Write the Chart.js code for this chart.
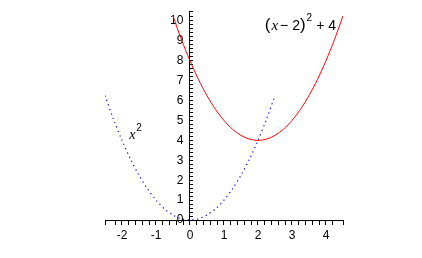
<!DOCTYPE html>
<html>
<head>
<meta charset="utf-8">
<script src="https://cdn.jsdelivr.net/npm/chart.js@4/dist/chart.umd.min.js"></script>
<style>
  html, body { margin: 0; padding: 0; background: #fff; }
  canvas { display: block; }
</style>
</head>
<body>
<canvas id="plot" width="422" height="258"></canvas>
<script>
// x^2
const xSquareX = [-2.5, -2.25, -2, -1.75, -1.5, -1.25, -1, -0.75, -0.5, -0.25, 0,
                  0.25, 0.5, 0.75, 1, 1.25, 1.5, 1.75, 2, 2.25, 2.5];
const xSquareY = [6.25, 5.06, 4, 3.06, 2.25, 1.56, 1, 0.56, 0.25, 0.06, 0,
                  0.06, 0.25, 0.56, 1, 1.56, 2.25, 3.06, 4, 5.06, 6.25];

// (x-2)^2 + 4
const shiftedX = [-0.5, -0.25, 0, 0.25, 0.5, 0.75, 1, 1.25, 1.5, 1.75, 2,
                  2.25, 2.5, 2.75, 3, 3.25, 3.5, 3.75, 4, 4.25, 4.5];
const shiftedY = [10.25, 9.06, 8, 7.06, 6.25, 5.56, 5, 4.56, 4.25, 4.06, 4,
                  4.06, 4.25, 4.56, 5, 5.56, 6.25, 7.06, 8, 9.06, 10.25];

// max nudged off 4.5 so chart.js steps from 0 and hits the whole numbers
const xRange = [-2.5, 4.501];
const yRange = [0, 10.5];
const tickStep = 0.2;

function toPoints(xs, ys) {
  return xs.map((x, i) => ({ x: x, y: ys[i] }));
}

function intLabel(value) {
  const r = Math.round(value);
  return Math.abs(value - r) < 1e-6 ? String(r) : '';
}

// y labels sit on the axis when it is placed at x=0, so pad them on the right
function yLabel(value) {
  const s = intLabel(value);
  return s ? s + '  ' : '';
}

// curve captions, placed in data coordinates
const captions = {
  id: 'captions',
  afterDraw(chart) {
    const ctx = chart.ctx;
    const sx = chart.scales.x, sy = chart.scales.y;
    ctx.save();
    ctx.fillStyle = '#000';
    ctx.textBaseline = 'alphabetic';

    // x^2
    let px = sx.getPixelForValue(-1.79), py = sy.getPixelForValue(4.05);
    ctx.font = 'italic 14px "Liberation Serif"';
    ctx.fillText('x', px, py);
    px += ctx.measureText('x').width + 1;
    ctx.font = '10px "Liberation Sans"';
    ctx.fillText('2', px, py - 8);

    // (x - 2)^2 + 4
    px = sx.getPixelForValue(2.2); py = sy.getPixelForValue(9.55);
    ctx.font = '17px "Liberation Sans"';
    ctx.fillText('(', px, py);
    px += ctx.measureText('(').width + 1;
    ctx.font = 'italic 15px "Liberation Serif"';
    ctx.fillText('x', px, py);
    px += ctx.measureText('x').width + 2;
    ctx.font = '14px "Liberation Sans"';
    ctx.fillText('\u2212 2', px, py);
    px += ctx.measureText('\u2212 2').width;
    ctx.font = '17px "Liberation Sans"';
    ctx.fillText(')', px, py);
    px += ctx.measureText(')').width + 1;
    ctx.font = '10px "Liberation Sans"';
    ctx.fillText('2', px, py - 9);
    px += ctx.measureText('2').width + 4;
    ctx.font = '14px "Liberation Sans"';
    ctx.fillText('+ 4', px, py);
    ctx.restore();
  }
};

new Chart(document.getElementById('plot'), {
  type: 'scatter',
  data: {
    datasets: [{
      data: toPoints(xSquareX, xSquareY),
      showLine: true,
      borderColor: '#0000ff',
      borderWidth: 1.2,
      borderDash: [1.2, 3.5],
      pointRadius: 0,
      tension: 0.3
    }, {
      data: toPoints(shiftedX, shiftedY),
      showLine: true,
      borderColor: '#ff0000',
      borderWidth: 1,
      pointRadius: 0,
      tension: 0.3
    }]
  },
  plugins: [captions],
  options: {
    responsive: false,
    animation: false,
    devicePixelRatio: 1,
    layout: { padding: { left: 105, right: 79, top: 11, bottom: 38 } },
    plugins: { legend: { display: false }, tooltip: { enabled: false } },
    scales: {
      x: {
        type: 'linear',
        min: xRange[0],
        max: xRange[1],
        position: { y: 0 },
        border: { color: '#000', width: 1 },
        grid: { drawOnChartArea: false, tickLength: 4, color: '#000' },
        ticks: {
          stepSize: tickStep,
          autoSkip: false,
          maxRotation: 0,
          padding: 4,
          color: '#000',
          font: { family: 'Liberation Sans', size: 12 },
          callback: intLabel
        }
      },
      y: {
        type: 'linear',
        min: yRange[0],
        max: yRange[1],
        position: { x: 0 },
        border: { color: '#000', width: 1 },
        grid: { drawOnChartArea: false, tickLength: -4, color: '#000' },
        ticks: {
          stepSize: tickStep,
          autoSkip: false,
          padding: 0,
          color: '#000',
          font: { family: 'Liberation Sans', size: 12 },
          callback: yLabel
        }
      }
    }
  }
});
</script>
</body>
</html>
